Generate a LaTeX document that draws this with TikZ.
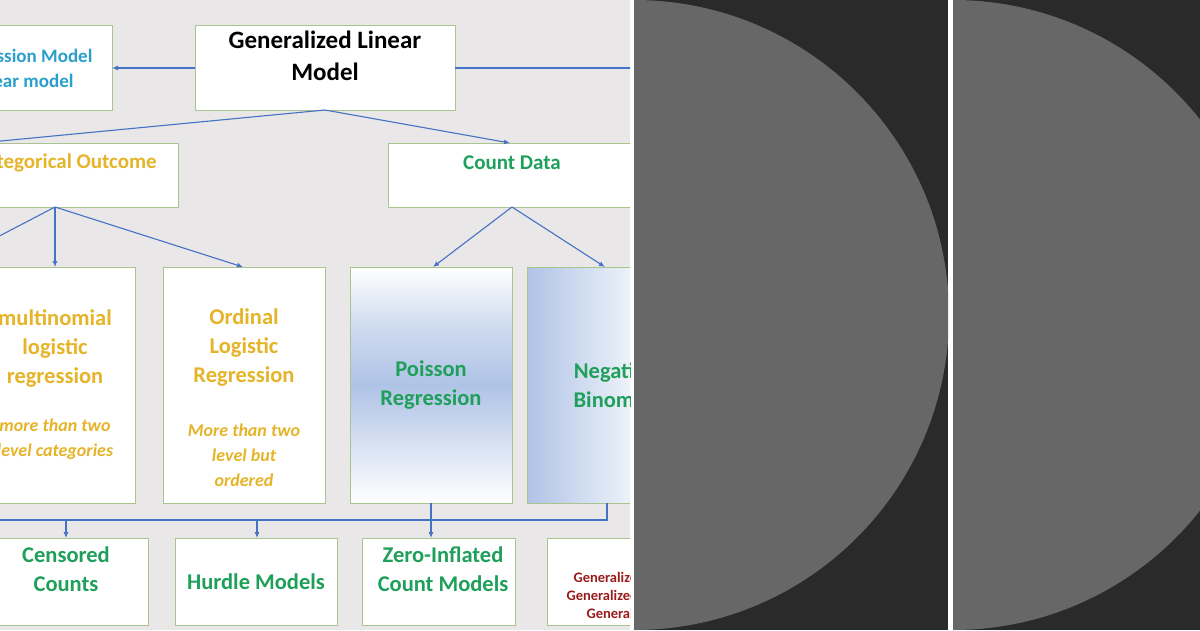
\documentclass[tikz,border=0pt]{standalone}
\usepackage{fontspec}
\setmainfont{Carlito}
\usetikzlibrary{arrows.meta}
\definecolor{bgl}{HTML}{E9E7E7}
\definecolor{dark}{HTML}{2A2A2A}
\definecolor{disc}{HTML}{676767}
\definecolor{edge}{HTML}{A9C48F}
\definecolor{arr}{HTML}{4472C4}
\definecolor{gold}{HTML}{E6B428}
\definecolor{grn}{HTML}{1FA05A}
\definecolor{cyanb}{HTML}{2A9FCB}
\definecolor{dred}{HTML}{9B1B1B}
\definecolor{sblue}{HTML}{AFC3E6}
\tikzset{
 bx/.style={draw=edge,fill=white,line width=0.8pt},
 ar/.style={draw=arr,line width=1.1pt,-{Latex[length=6pt,width=5pt]}},
 ln/.style={draw=arr,line width=1.1pt},
 tt/.style={font=\bfseries\fontsize{21}{25}\selectfont,align=center},
 big/.style={font=\bfseries\fontsize{22.5}{29}\selectfont,align=center},
 it/.style={font=\bfseries\itshape\fontsize{18}{25}\selectfont,align=center},
}
\begin{document}
\begin{tikzpicture}[x=1pt,y=-1pt]
\useasboundingbox (0,0) rectangle (1200,630);
\fill[white] (0,0) rectangle (1200,630);
\fill[bgl] (0,0) rectangle (630,630);
\fill[dark] (634,0) rectangle (948,630);
\fill[dark] (953,0) rectangle (1200,630);
\begin{scope}
\clip (634,0) rectangle (948,630);
\fill[disc] (634,315) circle (315);
\end{scope}
\begin{scope}
\clip (953,0) rectangle (1200,630);
\fill[disc] (953,315) circle (315);
\end{scope}
\begin{scope}
\clip (0,0) rectangle (630,630);
% boxes
\path[bx] (195,25) rectangle (455,110);
\path[bx] (-70,25) rectangle (112,110);
\path[bx] (-80,143) rectangle (178,207);
\path[bx] (388,143) rectangle (660,207);
\path[bx] (-30,267) rectangle (135,503);
\path[bx] (163,267) rectangle (325,503);
\shade[top color=white,bottom color=sblue,middle color=sblue!60] (350,267) rectangle (512,385);
\shade[top color=sblue,bottom color=white] (350,385) rectangle (512,503);
\draw[edge,line width=0.8pt] (350,267) rectangle (512,503);
\shade[shading=axis,shading angle=135,left color=sblue,right color=white] (527,267) rectangle (660,503);
\draw[edge,line width=0.8pt] (527,267) rectangle (660,503);
\path[bx] (-20,538) rectangle (148,625);
\path[bx] (175,538) rectangle (337,625);
\path[bx] (362,538) rectangle (515,625);
\path[bx] (547,538) rectangle (680,625);
% texts
\node[align=center,font=\bfseries\fontsize{25}{32}\selectfont] (glmt) at (325,56) {Generalized Linear\\Model};
\node[align=center,text=cyanb,font=\bfseries\fontsize{19}{25}\selectfont] (regt) at (22,68) {Regression Model\\Linear model};
\node[tt,text=gold] (catt) at (66,163) {Categorical Outcome};
\node[tt,text=grn] (cntt) at (512,163) {Count Data};
\node[big,text=gold] (mul) at (55,348) {multinomial\\logistic\\regression};
\node[it,text=gold] (mult) at (55,439) {more than two\\level categories};
\node[big,text=gold] (ord) at (244,348) {Ordinal\\Logistic\\Regression};
\node[it,text=gold] (ordt) at (244,455) {More than two\\level but\\ordered};
\node[big,text=grn] (poi) at (431,385) {Poisson\\Regression};
\node[big,text=grn] (neg) at (615,385) {Negative\\Binomial};
\node[big,text=grn] (cen) at (66,569) {Censored\\Counts};
\node[big,text=grn] (hur) at (256,582) {Hurdle Models};
\node[big,text=grn] (zer) at (443,569) {Zero-Inflated\\Count Models};
\node[anchor=west,text=dred,font=\bfseries\fontsize{14.5}{16}\selectfont] (g1) at (570,577) {Generalized};
\node[anchor=west,text=dred,font=\bfseries\fontsize{14.5}{16}\selectfont] (g2) at (563,595) {Generalized};
\node[anchor=west,text=dred,font=\bfseries\fontsize{14.5}{16}\selectfont] (g3) at (583,613) {Generalized};
% connectors
\coordinate (gb) at (325,110);
\coordinate (gl) at (195,68);
\coordinate (gr) at (455,68);
\coordinate (rr) at (112,68);
\coordinate (re) at (640,68);
\draw[ar] (gl) -- (rr);
\draw[ln] (gr) -- (re);
\coordinate (ct) at (-20,143);
\coordinate (nt) at (510,143);
\draw[ar] (gb) -- (ct);
\draw[ar] (gb) -- (nt);
\coordinate (cb) at (55,207);
\coordinate (m1) at (-60,267);
\coordinate (m2) at (55,267);
\coordinate (m3) at (243,267);
\draw[ar] (cb) -- (m1);
\draw[ar] (cb) -- (m2);
\draw[ar] (cb) -- (m3);
\coordinate (nb) at (512,207);
\coordinate (p1) at (433,267);
\coordinate (p2) at (605,267);
\draw[ar] (nb) -- (p1);
\draw[ar] (nb) -- (p2);
\coordinate (pb) at (431,503);
\coordinate (pe) at (431,538);
\coordinate (nbb) at (607,503);
\coordinate (bus0) at (0,520);
\coordinate (bus1) at (607,520);
\draw[ln] (nbb) -- (bus1) -- (bus0);
\draw[ar] (pb) -- (pe);
\coordinate (c1) at (66,520); \coordinate (c2) at (66,538);
\coordinate (h1) at (257,520); \coordinate (h2) at (257,538);
\draw[ar] (c1) -- (c2);
\draw[ar] (h1) -- (h2);
\end{scope}
\end{tikzpicture}
\end{document}
